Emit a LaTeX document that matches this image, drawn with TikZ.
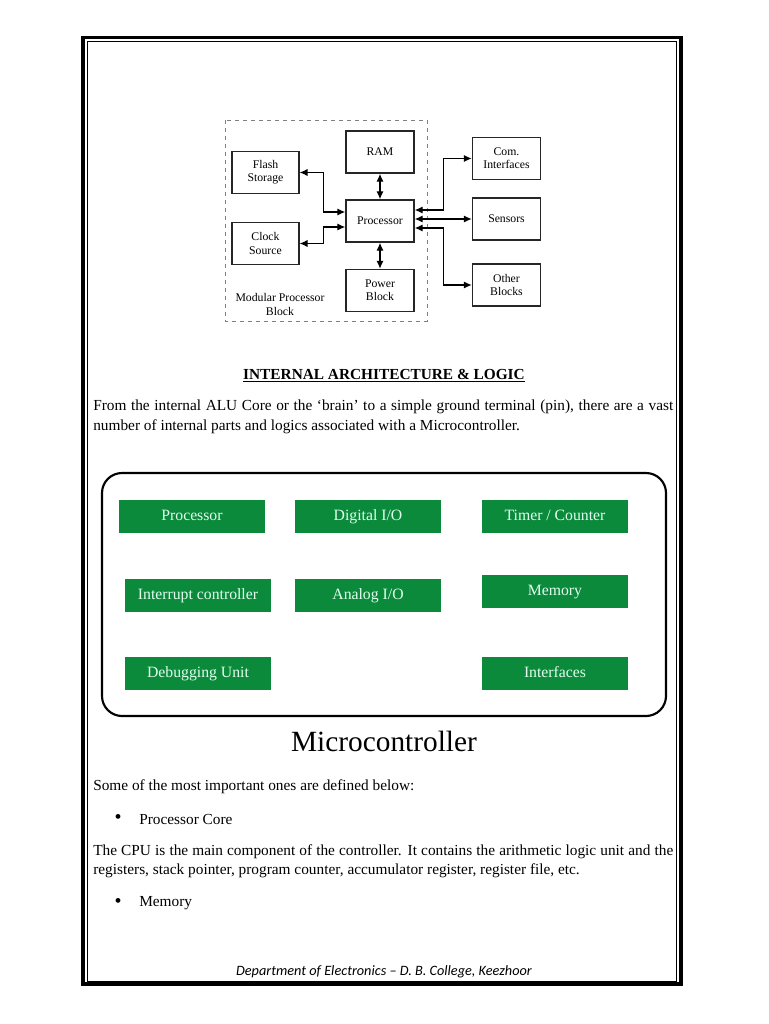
\documentclass[tikz,border=0pt]{standalone}
\usepackage{fontspec}
\setmainfont{Liberation Serif}
\newfontfamily\footfont{Carlito}
\usetikzlibrary{arrows.meta}
\definecolor{mcgreen}{RGB}{12,138,60}
\definecolor{mctext}{RGB}{225,255,238}
\newcommand\bodysize{\fontsize{11.5pt}{14pt}\selectfont}
\begin{document}
\begin{tikzpicture}[x=0.75pt,y=-0.75pt,
    blk/.style={draw=black!85,line width=1.1pt,minimum width=51pt,minimum height=31.5pt,
                align=center,inner sep=1pt,font=\fontsize{8.8pt}{10pt}\selectfont},
    biarrow/.style={line width=1pt,{Latex[length=6pt,width=5.5pt]}-{Latex[length=6pt,width=5.5pt]}},
    gbox/.style={fill=mcgreen,text=mctext,minimum width=109.5pt,minimum height=24.75pt,
                 text height=1.6ex,text depth=.35ex,font=\fontsize{11.8pt}{13pt}\selectfont},
    txt/.style={anchor=west,inner sep=0pt,font=\bodysize}]
  \useasboundingbox (0,0) rectangle (768,1024);
  % page frame
  \draw[line width=2.6pt] (83.2,37.5) rectangle (680.8,984);
  \draw[line width=0.75pt] (87.2,41.2) rectangle (676.2,981.2);

  % modular processor block
  \draw[dashed,gray,line width=0.6pt] (225,120) rectangle (427,321);
  \node[blk] (ram) at (380,152) {RAM};
  \node[blk] (proc) at (380,221) {Processor};
  \node[blk] (power) at (380,290.5) {Power\\Block};
  \node[blk,minimum width=50pt] (flash) at (265.5,172.5) {Flash\\Storage};
  \node[blk,minimum width=50pt] (clock) at (265.5,243.5) {Clock\\Source};
  \node[blk] (com) at (506.5,158.5) {Com.\\Interfaces};
  \node[blk] (sensors) at (506.5,219) {Sensors};
  \node[blk] (other) at (506.5,285) {Other\\Blocks};
  \node[align=center,font=\fontsize{8.8pt}{10pt}\selectfont] (mpb) at (280,304.5) {Modular Processor\\Block};
  \draw[biarrow] (ram) -- (proc);
  \draw[biarrow] (proc) -- (power);
  \draw[biarrow] (flash.east) -- ++(24,0) |- ([yshift=6.75pt]proc.west);
  \draw[biarrow] (clock.east) -- ++(24,0) |- ([yshift=-4.5pt]proc.west);
  \draw[biarrow] ([yshift=8.25pt]proc.east) -- ++(29,0) |- (com.west);
  \draw[biarrow] (sensors.west -| proc.east) -- (sensors.west);
  \draw[biarrow] ([yshift=-5.25pt]proc.east) -- ++(29,0) |- (other.west);

  % heading and text
  \node[font=\bodysize\bfseries] (title) at (384,376) {\underline{INTERNAL ARCHITECTURE \& LOGIC}};
  \node[txt] (p1a) at (93,407) {\makebox[435pt][s]{From the internal ALU Core or the ‘brain’ to a simple ground terminal (pin), there are a vast}};
  \node[txt] (p1b) at (93,427) {number of internal parts and logics associated with a Microcontroller.};

  % microcontroller
  \draw[line width=1.6pt,rounded corners=15pt] (102,473) rectangle (666,716);
  \foreach \nm/\px/\py/\lbl in {mproc/192/516.5/Processor, dio/368/516.5/{Digital I/O},
      timer/555/516.5/{Timer / Counter}, intc/198/595.5/Interrupt controller,
      aio/368/595.5/{Analog I/O}, mem/555/591.5/Memory,
      dbg/198/673.5/Debugging Unit, intf/555/673.5/Interfaces}
    \node[gbox] (\nm) at (\px,\py) {\lbl};
  \node[font=\fontsize{22pt}{24pt}\selectfont] (mc) at (384,741) {Microcontroller};

  % list
  \node[txt] (p2) at (93,787) {Some of the most important ones are defined below:};
  \node[font=\fontsize{15pt}{16pt}\selectfont] (b1) at (118,819) {\textbullet};
  \node[txt] (core) at (139,819) {Processor Core};
  \node[txt] (p3a) at (93,852) {\makebox[435pt][s]{The CPU is the main component of the controller. It contains the arithmetic logic unit and the}};
  \node[txt] (p3b) at (93,871) {registers, stack pointer, program counter, accumulator register, register file, etc.};
  \node[font=\fontsize{15pt}{16pt}\selectfont] (b2) at (118,903) {\textbullet};
  \node[txt] (memtxt) at (139,903) {Memory};

  % footer
  \node[font=\footfont\itshape\fontsize{10.7pt}{12pt}\selectfont] (foot) at (384,972) {Department of Electronics – D. B. College, Keezhoor};
\end{tikzpicture}
\end{document}
